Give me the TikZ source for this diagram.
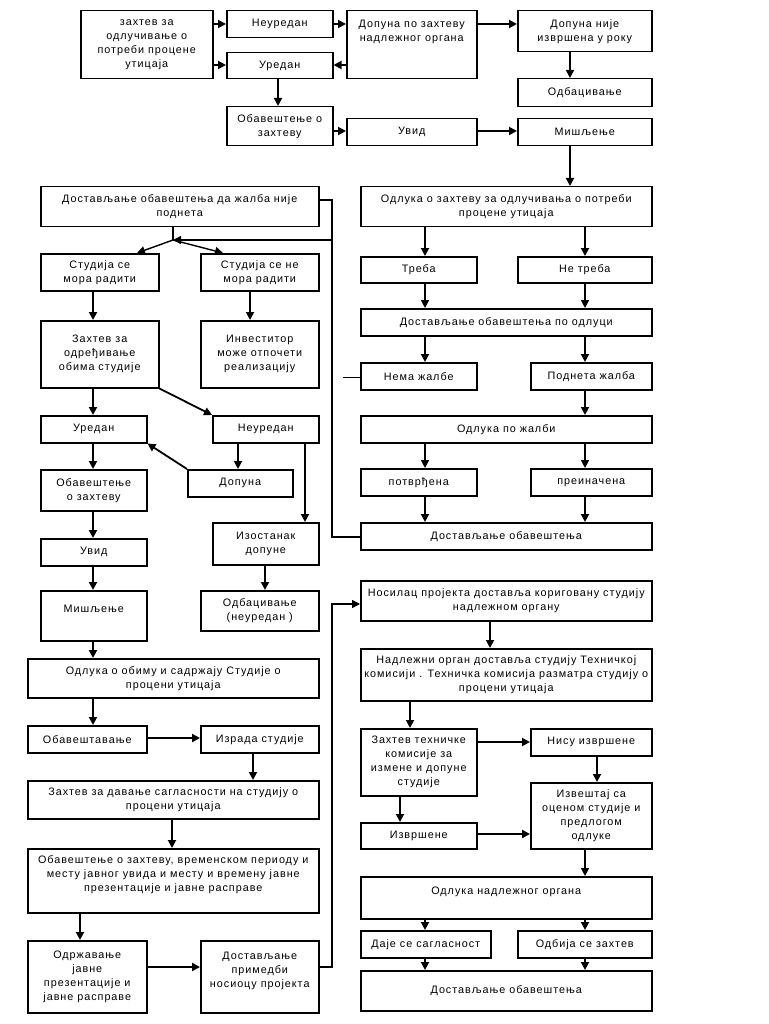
\documentclass[tikz,border=0pt]{standalone}
\usepackage{fontspec}
\setmainfont{Liberation Sans}[LetterSpace=9]
\usetikzlibrary{arrows.meta}
\newcommand\bx[6]{\pgfmathsetmacro\mybw{#4-#2}\pgfmathsetmacro\mybh{#5-#3}%
\node[box,anchor=north west,minimum width=\mybw pt,minimum height=\mybh pt] (#1) at (#2,#3) {#6};}
\begin{document}
\begin{tikzpicture}[x=1pt,y=-1pt,
 box/.style={draw,line width=1.5pt,inner sep=1pt,align=center,font=\fontsize{10.8}{14}\selectfont},
 arr/.style={line width=1.8pt,-{Triangle[length=8pt,width=8pt]}},
 ln/.style={line width=1.4pt}]
\fill[white] (0,0) rectangle (768,1024);
\useasboundingbox (0,0) rectangle (768,1024);
% column / row helpers
\foreach \c in {80,93,137,172,173,223,238,250,253,265,278,305,332,343,400,410,425,490,570,585,597}{\coordinate (x\c) at (\c,0);}
\foreach \r in {24,65,131,200,240,253,377,537,604,738,742,834,967}{\coordinate (r\r) at (0,\r);}
% top
\bx{A}{80}{10}{212}{78}{захтев за\\одлучивање о\\потреби процене\\утицаја}
\bx{B}{226}{10}{332}{37}{Неуредан}
\bx{C}{226}{52}{332}{78}{Уредан}
\bx{D}{346}{10}{476}{78}{Допуна по захтеву\\надлежног органа\\~\\~}
\bx{E}{517}{10}{651}{51}{Допуна није\\извршена у року}
\bx{F}{517}{78}{651}{106}{Одбацивање}
\bx{G}{226}{106}{332}{145}{Обавештење о\\захтеву}
\bx{H}{346}{118}{476}{145}{Увид}
\bx{I}{517}{118}{651}{145}{Мишљење}
% right middle
\bx{J}{360}{186}{651}{226}{Одлука о захтеву за одлучивања о потреби\\процене утицаја}
\bx{K}{360}{256}{476}{282}{Треба}
\bx{L}{517}{256}{651}{282}{Не треба}
\bx{M}{360}{308}{651}{335}{Достављање обавештења по одлуци}
\bx{N}{360}{362}{476}{389}{Нема жалбе}
\bx{O}{530}{362}{651}{389}{Поднета жалба}
\bx{P}{360}{415}{651}{442}{Одлука по жалби}
\bx{Q}{360}{468}{476}{495}{потврђена}
\bx{R}{530}{468}{651}{495}{преиначена}
\bx{S}{360}{522}{651}{549}{Достављање обавештења}
% left middle
\bx{T}{40}{186}{318}{226}{Достављање обавештења да жалба није\\поднета}
\bx{U}{40}{253}{158}{290}{Студија се\\мора радити}
\bx{V}{200}{253}{318}{290}{Студија се не\\мора радити}
\bx{W}{40}{320}{158}{387}{Захтев за\\одређивање\\обима студије}
\bx{X}{200}{320}{318}{387}{Инвеститор\\може отпочети\\реализацију}
\bx{Y}{40}{415}{146}{442}{Уредан}
\bx{Z}{212}{415}{318}{442}{Неуредан}
\bx{Dop}{187}{469}{292}{496}{Допуна}
\bx{ObZ}{40}{469}{146}{510}{Обавештење\\о захтеву}
\bx{Uv}{40}{538}{146}{565}{Увид}
\bx{Mi}{40}{590}{146}{640}{Мишљење\\~}
\bx{Iz}{212}{522}{318}{564}{Изостанак\\допуне}
\bx{Odb}{200}{590}{318}{630}{Одбацивање\\(неуредан )}
% left bottom
\bx{OO}{27}{658}{318}{697}{Одлука о обиму и садржају Студије о\\процени утицаја}
\bx{Obv}{27}{725}{146}{752}{Обавештавање}
\bx{Izr}{200}{725}{318}{752}{Израда студије}
\bx{ZS}{27}{780}{318}{818}{Захтев за давање сагласности на студију о\\процени утицаја}
\bx{OZ}{27}{848}{318}{912}{Обавештење о захтеву, временском периоду и\\месту јавног увида и месту и времену јавне\\презентације и јавне расправе\\~}
\bx{Odr}{27}{940}{146}{1012}{Одржавање\\јавне\\презентације и\\јавне расправе}
\bx{DP}{200}{940}{318}{1012}{Достављање\\примедби\\носиоцу пројекта\\~}
% right bottom
\bx{Nos}{360}{580}{651}{620}{Носилац пројекта доставља кориговану студију\\надлежном органу}
\bx{Nad}{360}{648}{651}{700}{Надлежни орган доставља студију Техничкој\\комисији . Техничка комисија разматра студију о\\процени утицаја}
\bx{ZTK}{360}{728}{476}{795}{Захтев техничке\\комисије за\\измене и допуне\\студије}
\bx{Nisu}{530}{728}{651}{755}{Нису извршене}
\bx{Izv}{530}{782}{651}{848}{Извештај са\\оценом студије и\\предлогом\\одлуке}
\bx{Izvr}{360}{822}{476}{848}{Извршене}
\bx{ON}{360}{876}{651}{918}{Одлука надлежног органа\\~}
\bx{Daje}{360}{930}{490}{957}{Даје се сагласност}
\bx{Odbi}{517}{930}{651}{957}{Одбија се захтев}
\bx{DF}{360}{970}{651}{1010}{Достављање обавештења}
% ---- connectors: top
\draw[arr] (A.east|-r24) -- (B.west|-r24);
\draw[arr] (A.east|-r65) -- (C.west|-r65);
\draw[arr] (B.east|-r24) -- (D.west|-r24);
\draw[arr] (D.west|-r65) -- (C.east|-r65);
\draw[arr] (D.east|-r24) -- (E.west|-r24);
\draw[arr] (E.south-|x570) -- (F.north-|x570);
\draw[arr] (C.south-|x278) -- (G.north-|x278);
\draw[arr] (G.east|-r131) -- (H.west|-r131);
\draw[arr] (H.east|-r131) -- (I.west|-r131);
\draw[arr] (I.south-|x570) -- (J.north-|x570);
% right middle
\draw[arr] (J.south-|x425) -- (K.north-|x425);
\draw[arr] (J.south-|x585) -- (L.north-|x585);
\draw[arr] (K.south-|x425) -- (M.north-|x425);
\draw[arr] (L.south-|x585) -- (M.north-|x585);
\draw[arr] (M.south-|x425) -- (N.north-|x425);
\draw[arr] (M.south-|x585) -- (O.north-|x585);
\draw[arr] (O.south-|x585) -- (P.north-|x585);
\draw[arr] (P.south-|x425) -- (Q.north-|x425);
\draw[arr] (P.south-|x585) -- (R.north-|x585);
\draw[arr] (Q.south-|x425) -- (S.north-|x425);
\draw[arr] (R.south-|x585) -- (S.north-|x585);
% bus between columns
\coordinate (jn) at (173,240);
\coordinate (b200) at (332,200);
\coordinate (b240) at (332,240);
\coordinate (b537) at (332,537);
\draw[ln] (T.east|-r200) -- (b200) -- (b537) -- (S.west|-r537);
\draw[arr,line width=1.4pt] (b240) -- (jn);
\draw[ln] (T.south-|x173) -- (jn);
\draw[arr,line width=1.4pt] (jn) -- (U.north-|x137);
\draw[arr,line width=1.4pt] (jn) -- (V.north-|x223);
\draw[line width=0.9pt] (N.west|-r377) -- (x343|-r377);
% left middle
\draw[arr,line width=2.4pt] (U.south-|x93) -- (W.north-|x93);
\draw[arr] (V.south-|x250) -- (X.north-|x250);
\draw[arr,line width=2.4pt] (W.south-|x93) -- (Y.north-|x93);
\draw[arr] (W.south east) -- (Z.north west);
\draw[arr] (Z.south-|x238) -- (Dop.north-|x238);
\draw[arr] (Dop.north west) -- (Y.south east);
\draw[arr] (Z.south-|x305) -- (Iz.north-|x305);
\draw[arr] (Iz.south-|x265) -- (Odb.north-|x265);
\draw[arr,line width=2.4pt] (Y.south-|x93) -- (ObZ.north-|x93);
\draw[arr,line width=2.4pt] (ObZ.south-|x93) -- (Uv.north-|x93);
\draw[arr,line width=2.4pt] (Uv.south-|x93) -- (Mi.north-|x93);
\draw[arr,line width=2.4pt] (Mi.south-|x93) -- (OO.north-|x93);
% left bottom
\draw[arr,line width=2.4pt] (OO.south-|x93) -- (Obv.north-|x93);
\draw[arr,line width=2.4pt] (Obv.east|-r738) -- (Izr.west|-r738);
\draw[arr] (Izr.south-|x253) -- (ZS.north-|x253);
\draw[arr] (ZS.south-|x172) -- (OZ.north-|x172);
\draw[arr,line width=2.4pt] (OZ.south-|x80) -- (Odr.north-|x80);
\draw[arr,line width=2.4pt] (Odr.east|-r967) -- (DP.west|-r967);
\draw[arr,line width=1.4pt] (DP.east|-r967) -- (x332|-r967) -- (x332|-r604) -- (Nos.west|-r604);
% right bottom
\draw[arr] (Nos.south-|x490) -- (Nad.north-|x490);
\draw[arr] (Nad.south-|x410) -- (ZTK.north-|x410);
\draw[arr] (ZTK.east|-r742) -- (Nisu.west|-r742);
\draw[arr] (Nisu.south-|x597) -- (Izv.north-|x597);
\draw[arr] (ZTK.south-|x400) -- (Izvr.north-|x400);
\draw[arr,line width=2.4pt] (Izvr.east|-r834) -- (Izv.west|-r834);
\draw[arr] (Izv.south-|x585) -- (ON.north-|x585);
\draw[arr] (ON.south-|x425) -- (Daje.north-|x425);
\draw[arr] (ON.south-|x585) -- (Odbi.north-|x585);
\draw[arr] (Daje.south-|x425) -- (DF.north-|x425);
\draw[arr] (Odbi.south-|x585) -- (DF.north-|x585);
\end{tikzpicture}
\end{document}
